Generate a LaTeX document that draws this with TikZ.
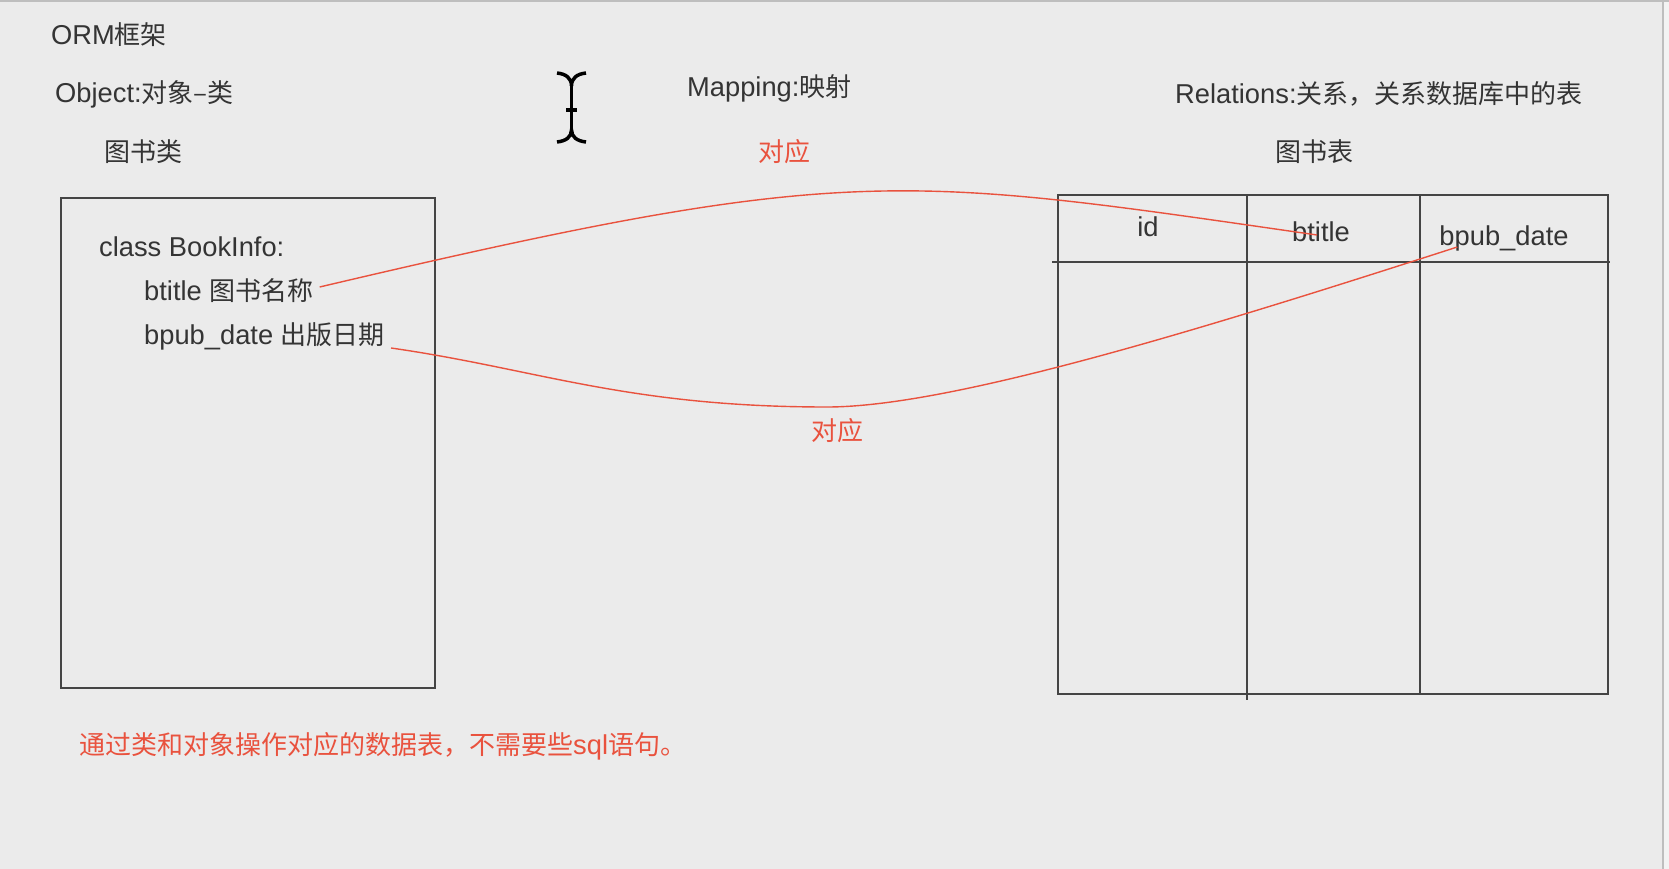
\documentclass[tikz,border=0pt]{standalone}
\usepackage{fontspec}
\setmainfont[Scale=1.05]{Liberation Sans}
\newfontfamily\cjk{Noto Sans CJK SC}
\newcommand{\zh}[1]{{\cjk #1}}
\usetikzlibrary{calc,positioning}
\definecolor{bgc}{RGB}{235,235,235}
\definecolor{txtc}{RGB}{52,52,52}
\definecolor{linec}{RGB}{68,68,68}
\definecolor{redc}{RGB}{233,82,62}
\definecolor{edgec}{RGB}{190,190,190}

\begin{document}
\begin{tikzpicture}[x=1pt, y=-1pt]
    \tikzset{lbl/.style={anchor=west, inner sep=0pt, text=txtc,
        font=\fontsize{26}{30}\selectfont, text height=24pt, text depth=5pt},
      redlbl/.style={lbl, text=redc},
      col/.style={lbl, anchor=center},
      frame/.style={draw=linec, line width=2pt, inner sep=0pt, anchor=north west},
      link/.style={draw=redc, line width=1.4pt}}
    \useasboundingbox (0,0) rectangle (1669,869);
    \fill[bgc] (0,0) rectangle (1669,869);
    \fill[bgc!60!white] (1663,0) rectangle (1669,869);
    \draw[edgec, line width=2pt] (0,1) -- (1669,1);
    \draw[edgec, line width=1.5pt] (1663,0) -- (1663,869);
    % headings
    \node[lbl] (orm) at (51,35) {ORM\zh{框架}};
    \node[lbl] (obj) at (55,93) {Object:\zh{对象–类}};
    \node[lbl] (clscap) at (104,152) {\zh{图书类}};
    \node[lbl] (map) at (687,87) {Mapping:\zh{映射}};
    \node[redlbl] (corr1) at (758,152) {\zh{对应}};
    \node[lbl] (rel) at (1175,94) {Relations:\zh{关系，关系数据库中的表}};
    \node[lbl] (tblcap) at (1275,152) {\zh{图书表}};
    % class box
    \node[frame, minimum width=374pt, minimum height=490pt] (cls) at (60,197) {};
    \node[lbl] (clsname) at (99,247) {class BookInfo:};
    \node[lbl] (fbtitle) at (144,291) {btitle \zh{图书名称}};
    \node[lbl] (fbpub) at (144,335) {bpub\_date \zh{出版日期}};
    % table
    \node[frame, minimum width=550pt, minimum height=499pt] (tbl) at (1057,194) {};
    \draw[linec, line width=2pt] (1052,262) -- (1610,262);
    \draw[linec, line width=2pt] (1247,194) -- (1247,700);
    \draw[linec, line width=2pt] (1420,194) -- (1420,693);
    \node[col] (cid) at (1148,227) {id};
    \node[col] (cbtitle) at (1321,232) {btitle};
    \node[col] (cbpub) at (1504,236) {bpub\_date};
    % mappings
    \draw[link] ($(fbtitle.east)+(6,-4)$) .. controls (850,162) and (900,175) .. ($(cbtitle.center)+(-4,3)$);
    \draw[link] ($(fbpub.east)+(6,13)$) .. controls (537,369) and (627,407) .. (827,407)
      .. controls (950,407) and (1200,330) .. ($(cbpub.west)+(18,11)$);
    \node[redlbl] (corr2) at (811,431) {\zh{对应}};
    \node[redlbl] (note) at (79,745) {\zh{通过类和对象操作对应的数据表，不需要些}sql\zh{语句。}};
    % cursor
    \draw[black, line width=3.5pt] (571.5,82) -- (571.5,134) (566,110) -- (577,110);
    \draw[black, line width=3.5pt] (557,73) .. controls (566,74) and (571.5,78) .. (571.5,86)
      .. controls (571.5,78) and (577,74) .. (586,73);
    \draw[black, line width=3.5pt] (557,142) .. controls (566,141) and (571.5,137) .. (571.5,130)
      .. controls (571.5,137) and (577,141) .. (586,142);
\end{tikzpicture}
\end{document}
